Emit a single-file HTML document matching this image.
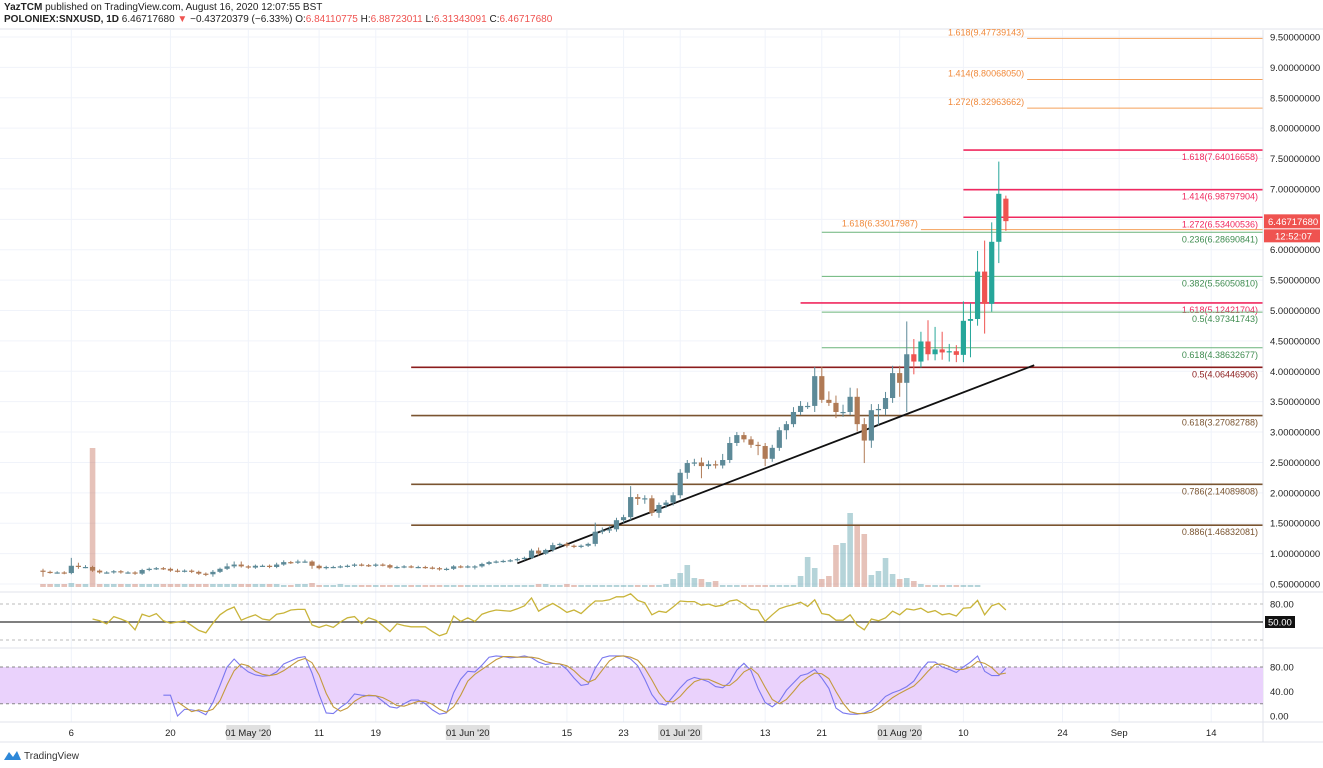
<!DOCTYPE html>
<html><head><meta charset="utf-8">
<style>
html,body{margin:0;padding:0;background:#fff;}
body{width:1323px;height:768px;overflow:hidden;font-family:"Liberation Sans",sans-serif;}
#hdr1{position:absolute;left:4px;top:2px;font-size:10px;color:#222;}
#hdr2{position:absolute;left:4px;top:14px;font-size:10px;color:#222;}
.r{color:#ef5350}
</style></head>
<body>
<div id="hdr1"><b>YazTCM</b> published on TradingView.com, August 16, 2020 12:07:55 BST</div>
<div id="hdr2"><b>POLONIEX:SNXUSD, 1D</b> 6.46717680 <span class="r">▼</span> −0.43720379 (−6.33%) O:<span class="r">6.84110775</span> H:<span class="r">6.88723011</span> L:<span class="r">6.31343091</span> C:<span class="r">6.46717680</span></div>
<svg id="chart" width="1323" height="768" style="position:absolute;left:0;top:0" xmlns="http://www.w3.org/2000/svg" font-family="Liberation Sans, sans-serif"></svg>
<script>
const closes=[0.70,0.69,0.69,0.68,0.80,0.78,0.78,0.72,0.69,0.69,0.71,0.69,0.69,0.67,0.73,0.75,0.76,0.75,0.72,0.71,0.72,0.70,0.67,0.66,0.70,0.75,0.79,0.82,0.79,0.77,0.80,0.80,0.78,0.82,0.86,0.85,0.87,0.87,0.80,0.76,0.78,0.78,0.79,0.80,0.82,0.81,0.80,0.82,0.81,0.77,0.78,0.79,0.78,0.78,0.77,0.76,0.74,0.75,0.79,0.78,0.79,0.79,0.83,0.86,0.87,0.88,
0.89,0.91,0.93,1.05,1.00,1.06,1.14,1.16,1.13,1.11,1.13,1.16,1.36,1.38,1.40,1.55,1.60,1.93,1.90,1.91,1.67,1.80,1.84,1.96,2.33,2.49,2.50,2.44,2.47,2.45,2.54,2.82,2.95,2.88,2.79,2.77,2.56,2.74,3.03,3.13,3.33,3.43,3.43,3.92,3.53,3.48,3.33,3.33,3.58,3.13,2.86,3.36,3.38,3.56,3.97,3.81,4.28,4.16,4.49,4.28,4.36,4.31,4.33,4.27,4.83,4.86,5.64,5.11,6.13,6.92,6.47];
const firstOpen=0.72;
const lastOpen=6.84;
const hiEx=[0.03,0.02,0.02,0.02,0.13,0.05,0.03,0.02,0.02,0.02,0.02,0.02,0.02,0.02,0.02,0.02,0.02,0.02,0.02,0.03,0.02,0.02,0.02,0.02,0.03,0.02,0.05,0.05,0.05,0.02,0.02,0.02,0.02,0.03,0.03,0.02,0.03,0.03,0.02,0.02,0.02,0.02,0.02,0.02,0.02,0.02,0.02,0.02,0.02,0.02,0.02,0.02,0.02,0.02,0.02,0.02,0.02,0.02,0.02,0.02,0.02,0.02,0.02,0.02,0.02,0.02,
0.02,0.02,0.02,0.03,0.05,0.02,0.04,0.02,0.03,0.02,0.02,0.02,0.15,0.05,0.05,0.04,0.04,0.18,0.05,0.05,0.05,0.04,0.04,0.05,0.06,0.05,0.06,0.08,0.06,0.06,0.10,0.10,0.05,0.05,0.05,0.05,0.05,0.05,0.05,0.05,0.08,0.08,0.06,0.15,0.16,0.14,0.12,0.12,0.15,0.14,0.10,0.10,0.08,0.10,0.12,0.12,0.54,0.25,0.16,0.35,0.37,0.29,0.12,0.10,0.32,0.26,0.34,0.51,0.32,0.53,0.05];
const loEx=[0.08,0.02,0.02,0.02,0.02,0.03,0.02,0.02,0.02,0.02,0.02,0.02,0.02,0.02,0.02,0.02,0.02,0.02,0.02,0.02,0.02,0.02,0.02,0.03,0.04,0.02,0.02,0.03,0.02,0.02,0.02,0.02,0.02,0.02,0.02,0.02,0.02,0.02,0.05,0.02,0.02,0.02,0.02,0.02,0.02,0.02,0.02,0.02,0.02,0.02,0.02,0.02,0.02,0.02,0.02,0.02,0.02,0.02,0.02,0.02,0.02,0.05,0.02,0.02,0.02,0.02,
0.02,0.02,0.02,0.02,0.03,0.02,0.03,0.02,0.03,0.02,0.02,0.02,0.04,0.04,0.04,0.04,0.04,0.05,0.10,0.08,0.05,0.08,0.05,0.05,0.05,0.10,0.05,0.20,0.05,0.05,0.05,0.05,0.05,0.05,0.05,0.15,0.12,0.05,0.05,0.15,0.05,0.05,0.05,0.10,0.05,0.05,0.10,0.08,0.05,0.12,0.37,0.12,0.25,0.10,0.08,0.23,0.48,0.21,0.10,0.10,0.10,0.12,0.15,0.12,0.12,0.60,0.11,0.49,0.13,0.35,0.16];
const volumes=[3,3,3,3,4,3,3,139,3,3,3,3,3,3,3,3,3,3,3,3,3,3,3,3,3,3,3,3,3,3,3,3,3,3,2,2,3,3,4,2,2,2,3,2,2,2,2,2,2,2,2,2,2,2,2,2,2,2,2,2,2,2,2,2,2,2,
2,2,2,2,3,3,2,2,3,2,2,2,2,2,2,2,2,2,2,2,2,2,3,8,14,22,9,8,5,6,2,2,2,2,2,2,2,2,2,2,2,11,30,19,8,11,42,44,74,62,53,12,16,29,13,8,9,6,3,2,2,2,2,2,2,2,2];
const rsiStart=7;
const rsiVals=[55,52,47,59,55,50,37,63,59,64,52,48,50,52,44,36,32,48,62,70,75,53,58,62,55,53,63,65,70,71,71,45,41,45,41,50,57,59,47,57,53,44,34,47,44,42,42,42,34,27,31,60,51,57,51,63,67,70,69,68,72,77,90,68,75,81,74,66,70,64,75,85,85,87,92,92,97,86,82,62,68,66,75,85,84,84,78,80,76,78,85,87,80,71,70,51,62,72,76,79,83,76,87,64,62,53,53,62,45,37,55,52,57,68,62,72,70,73,66,69,62,64,60,73,74,86,62,77,81,70];
const kStart=17;
const stochK=[34,34,0,11,10,8,2,22,50,80,93,81,72,67,65,66,72,85,90,95,97,70,35,5,4,14,22,36,34,33,33,24,15,13,20,26,26,20,10,3,5,38,60,73,72,83,96,98,97,95,96,98,95,88,84,86,85,76,62,50,52,78,95,98,98,98,93,82,60,35,20,18,32,46,58,63,60,56,48,46,55,75,86,74,45,22,15,24,42,54,66,69,76,62,45,13,5,3,3,5,10,20,32,38,42,48,57,75,88,88,80,76,71,80,88,98,73,66,66,78];
const dStart=19;
const stochD=[23,15,7,10,7,11,25,51,74,85,82,73,68,66,68,74,82,90,94,87,67,37,15,8,13,24,31,34,33,30,24,17,16,20,24,24,19,11,6,15,34,57,68,76,84,92,97,97,96,96,96,94,89,86,85,82,74,63,55,60,75,90,97,98,96,91,78,59,38,24,23,32,45,56,60,60,55,50,50,59,72,78,68,47,27,20,27,40,54,63,70,69,61,40,21,7,4,4,6,12,21,30,37,43,49,60,73,84,85,81,76,76,80,89,86,79,68,70];
const priceTicks=[0.5,1,1.5,2,2.5,3,3.5,4,4.5,5,5.5,6,6.5,7,7.5,8,8.5,9,9.5];
const dateLabels=["6","20","01 May '20","11","19","01 Jun '20","15","23","01 Jul '20","13","21","01 Aug '20","10","24","Sep","14"];
const dateDayIdx=[4,18,29,39,47,60,74,82,90,102,110,121,130,144,152,165];
const fibLevels=[9.47739143,8.80068050,8.32963662,7.64016658,6.98797904,6.53400536,6.33017987,6.28690841,5.56050810,5.12421704,4.97341743,4.38632677,4.06446906,3.27082788,2.14089808,1.46832081];
const fibRatios=["1.618","1.414","1.272","1.618","1.414","1.272","1.618","0.236","0.382","1.618","0.5","0.618","0.5","0.618","0.786","0.886"];
const fibStartIdx=[139,139,139,130,130,130,124,110,110,107,110,110,52,52,52,52];
const fibKind=["o","o","o","m","m","m","o","g","g","m","g","g","d","b","b","b"];

const svg=document.getElementById('chart');
const NS="http://www.w3.org/2000/svg";
function el(tag,attrs,parent){const e=document.createElementNS(NS,tag);for(const k in attrs)e.setAttribute(k,attrs[k]);(parent||svg).appendChild(e);return e;}
const X0=43,DX=7.08,AXR=1263;
function xs(i){return X0+i*DX;}
function ys(p){return 584-(p-0.5)*60.78;}
function yr(v){return 622-(v-50)*0.6;}
function yk(v){return 716-v*0.6125;}

// header separator
let hl=el('line',{x1:0,y1:29,x2:1323,y2:29,stroke:'#e0e3eb'});


// gridlines
priceTicks.forEach(p=>{const g=el('line',{x1:0,x2:AXR,y1:ys(p),y2:ys(p),stroke:'#f0f3fa'});
});
dateDayIdx.forEach(d=>{const g=el('line',{x1:xs(d),x2:xs(d),y1:30,y2:722,stroke:'#f0f3fa'});
});

// volumes
closes.forEach((c,i)=>{const o=i==0?firstOpen:(i==closes.length-1?lastOpen:closes[i-1]);
const up=c>=o;const h=volumes[i];
const r=el('rect',{x:xs(i)-2.8,y:587-h,width:5.6,height:h,fill:up?'rgba(90,160,170,0.45)':'rgba(200,120,100,0.45)'});
});

// fib lines
const fibCol={o:'#f5a05a',m:'#f0295f',g:'#6ab47a',d:'#8b1c1c',b:'#7a5430'};
fibLevels.forEach((p,k)=>{const y=ys(p);const col=fibCol[fibKind[k]];
const x1=xs(fibStartIdx[k]);
const ln=el('line',{x1:x1,x2:AXR,y1:y,y2:y,stroke:col,'stroke-width':(fibKind[k]=='d'||fibKind[k]=='b'||fibKind[k]=='m')?1.6:1});

let t;const txt=fibRatios[k]+'('+p.toFixed(8)+')';
if(fibKind[k]=='o'){t=el('text',{x:x1-3,y:y-3,'font-size':9,fill:'#f08a3c','text-anchor':'end'});}
else{t=el('text',{x:1258,y:y+10,'font-size':9,fill:col=='#6ab47a'?'#3f8c50':col,'text-anchor':'end'});}
t.textContent=txt;});

// trend line
const tl=el('line',{x1:xs(67),y1:ys(0.84),x2:xs(140),y2:ys(4.1),stroke:'#111','stroke-width':1.8});


// candles
closes.forEach((c,i)=>{const o=i==0?firstOpen:(i==closes.length-1?lastOpen:closes[i-1]);
const up=c>=o;const late=i>=123;
const col=late?(up?'#26a69a':'#ef5350'):(up?'#5d8a98':'#b07a55');
const hi=Math.max(o,c)+hiEx[i],lo=Math.min(o,c)-loEx[i];
const w=el('line',{x1:xs(i),x2:xs(i),y1:ys(hi),y2:ys(lo),stroke:col,'stroke-width':1});

const top=ys(Math.max(o,c)),bh=Math.max(1.2,ys(Math.min(o,c))-top);
const b=el('rect',{x:xs(i)-2.6,y:top,width:5.2,height:bh,fill:col});
});

// panes separators
[[592,'rsi-pane-top'],[648,'stoch-pane-top'],[722,'time-axis-top'],[742,'time-axis-bottom']].forEach(a=>{
const s=el('line',{x1:0,x2:1323,y1:a[0],y2:a[0],stroke:'#e0e3eb'});});
const vs=el('line',{x1:AXR,x2:AXR,y1:30,y2:742,stroke:'#e0e3eb'});

// RSI pane
[80,20].forEach(v=>{const d=el('line',{x1:0,x2:AXR,y1:yr(v),y2:yr(v),stroke:'#bbb','stroke-dasharray':'3,3'});
});
const mid=el('line',{x1:0,x2:AXR,y1:yr(50),y2:yr(50),stroke:'#333','stroke-width':1.2});

const rp=el('polyline',{points:rsiVals.map((v,j)=>xs(rsiStart+j)+','+yr(v)).join(' '),fill:'none',stroke:'#c9b43a','stroke-width':1.3});


// Stoch pane
const band=el('rect',{x:0,y:yk(80),width:AXR,height:yk(20)-yk(80),fill:'#ead2fc'});

[80,20].forEach(v=>{const d=el('line',{x1:0,x2:AXR,y1:yk(v),y2:yk(v),stroke:'#888','stroke-dasharray':'3,3'});
});
const kp=el('polyline',{points:stochK.map((v,j)=>xs(kStart+j)+','+yk(v)).join(' '),fill:'none',stroke:'#7a78ef','stroke-width':1.1});

const dp=el('polyline',{points:stochD.map((v,j)=>xs(dStart+j)+','+yk(v)).join(' '),fill:'none',stroke:'#c49a3e','stroke-width':1.1});


// price axis labels
priceTicks.forEach(p=>{const t=el('text',{x:1270,y:ys(p)+3.5,'font-size':9.5,fill:'#222'});t.textContent=p.toFixed(8);
});
[[80,yr(80)],[80,yk(80)],[40,yk(40)],[0,yk(0)]].forEach(a=>{const t=el('text',{x:1270,y:a[1]+3.5,'font-size':9.5,fill:'#222'});t.textContent=a[0].toFixed(2);
});
const mb=el('rect',{x:1265,y:yr(50)-6,width:30,height:12,fill:'#111'});
const mt=el('text',{x:1268,y:yr(50)+3.5,'font-size':9.5,fill:'#fff'});mt.textContent='50.00';

// last price tag
const lp=el('rect',{x:1264,y:ys(6.467)-7,width:56,height:14,fill:'#ef5350'});
const lpt=el('text',{x:1268,y:ys(6.467)+3.5,'font-size':9.5,fill:'#fff'});lpt.textContent='6.46717680';
const cd=el('rect',{x:1264,y:ys(6.467)+8,width:56,height:13,fill:'#ef5350'});
const cdt=el('text',{x:1275,y:ys(6.467)+18,'font-size':9.5,fill:'#fff'});cdt.textContent='12:52:07';

// date labels
dateLabels.forEach((s,k)=>{const x=xs(dateDayIdx[k]);
if(s.length>4){const bx=el('rect',{x:x-22,y:725,width:44,height:15,fill:'#e0e0e0'});}
const t=el('text',{x:x,y:736,'font-size':9.5,fill:'#222','text-anchor':'middle'});t.textContent=s;
});

// footer logo
const lg=el('path',{d:'M4 760 L9 752 L13 757 L17 751 L21 760 Z',fill:'#2e88d8'});
const lt=el('text',{x:24,y:759,'font-size':10,fill:'#333'});lt.textContent='TradingView';
</script>
</body></html>
